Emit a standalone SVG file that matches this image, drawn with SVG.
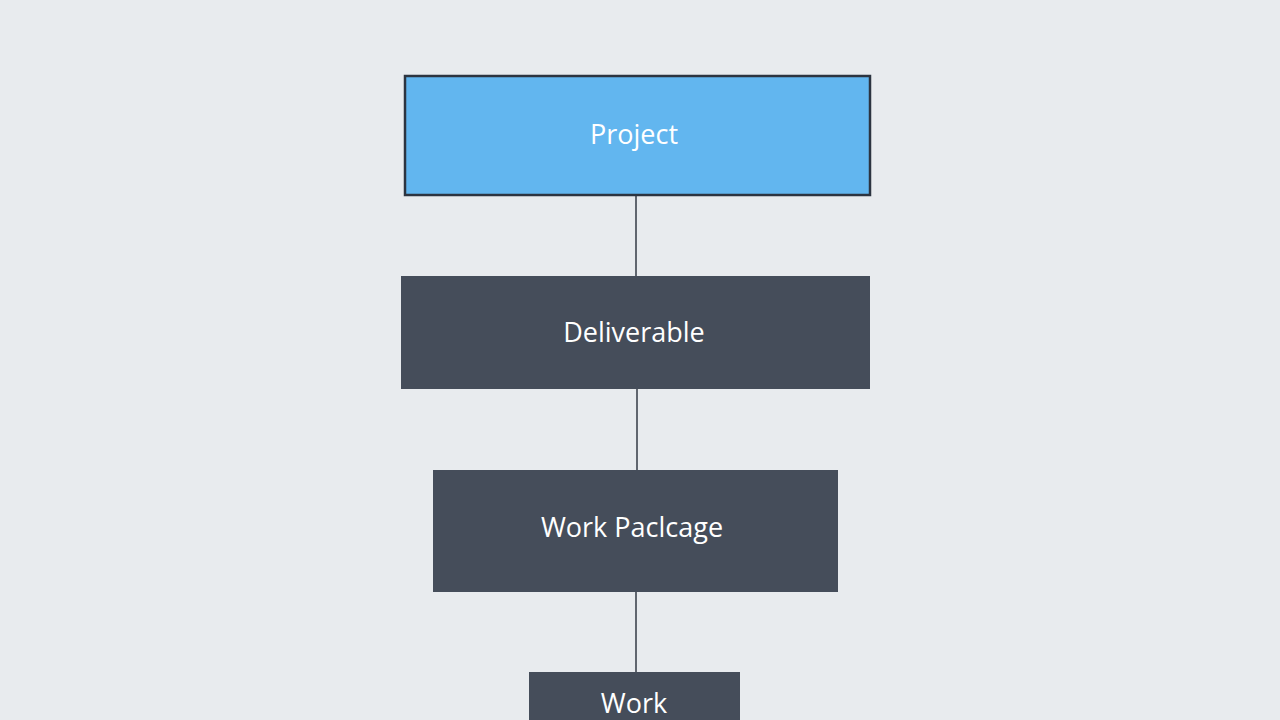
<svg xmlns="http://www.w3.org/2000/svg" width="1280" height="720" viewBox="0 0 1280 720">
<style>
.dark{fill:#454d5a}
.t{font-family:"Open Sans","Noto Sans",sans-serif;fill:#fff;text-anchor:middle;font-size:27px}
.c{stroke:#333a44;stroke-width:1.5}
</style>
<rect width="1280" height="720" fill="#e8ebee"/>
<g id="connectors">
<line class="c" x1="636" y1="196" x2="636" y2="276"/>
<line class="c" x1="637" y1="389" x2="637" y2="470"/>
<line class="c" x1="636" y1="592" x2="636" y2="672"/>
</g>
<g id="project"><rect x="405" y="76" width="465" height="119" fill="#62b6ef" stroke="#2c3440" stroke-width="2.5"/><text class="t" x="634" y="144">Project</text></g>
<g id="deliverable"><rect class="dark" x="401" y="276" width="469" height="113"/><text class="t" x="634" y="342">Deliverable</text></g>
<g id="workpackage"><rect class="dark" x="433" y="470" width="405" height="122"/><text class="t" x="632" y="537">Work Paclcage</text></g>
<g id="work"><rect class="dark" x="529" y="672" width="211" height="60"/><text class="t" x="634" y="713">Work</text></g>
</svg>
